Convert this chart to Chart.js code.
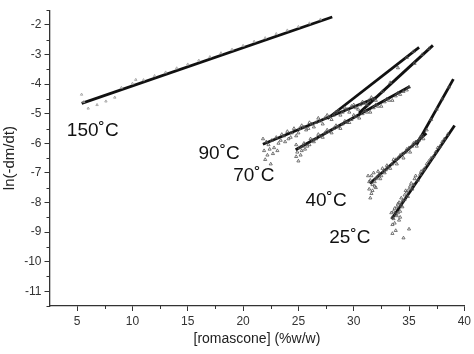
<!DOCTYPE html>
<html>
<head>
<meta charset="utf-8">
<script src="https://cdn.jsdelivr.net/npm/chart.js@4/dist/chart.umd.min.js"></script>
<style>
  body { margin: 0; background: #fff; }
  canvas { display: block; }
</style>
</head>
<body>
<canvas id="rateChart" width="474" height="354"></canvas>
<script>
// axis ticks
const xTicks = [5, 10, 15, 20, 25, 30, 35, 40];
const yTicks = [-11, -10, -9, -8, -7, -6, -5, -4, -3, -2];
const xMinor = [7.5, 12.5, 17.5, 22.5, 27.5, 32.5, 37.5];
const yMinor = [-11.5, -10.5, -9.5, -8.5, -7.5, -6.5, -5.5, -4.5, -3.5, -2.5, -1.5];

// measured points, [romascone %w/w, ln(-dm/dt)]
const pts150 = [[5.4,-4.35],[5.6,-4.6],[6.0,-4.82],[6.8,-4.7],[7.6,-4.58],[8.4,-4.45],[9.0,-4.12],[10.0,-3.98],
  [10.3,-3.85],[11.0,-3.86],[12.0,-3.72],[13.0,-3.6],[14.0,-3.46],[15.0,-3.33],[16.0,-3.2],[17.0,-3.08],
  [18.0,-2.95],[19.0,-2.83],[20.0,-2.7],[21.0,-2.56],[22.0,-2.44],[23.0,-2.3],[24.0,-2.18],[25.0,-2.06],
  [26.0,-1.94],[27.0,-1.81]];
const pts90 = [[21.8,-5.85],[21.9,-6.25],[22.0,-6.55],[22.1,-5.95],[22.2,-6.4],[22.3,-6.05],[22.4,-6.2],
  [22.5,-6.7],[22.6,-5.9],[22.7,-6.35],[22.8,-6.15],[23.0,-5.8],[23.1,-6.25],[23.2,-6.0],[23.4,-5.9],
  [23.5,-5.7],[23.7,-5.75],[23.8,-5.95],[24.0,-5.6],[24.1,-5.85],[24.3,-5.8],[24.4,-5.65],[24.6,-5.5],
  [24.8,-5.75],[25.0,-5.65],[25.1,-5.5],[25.3,-5.4],[25.5,-5.45],[25.7,-5.55],[25.9,-5.5],[26.0,-5.3],
  [26.2,-5.35],[26.4,-5.45],[26.6,-5.3],[26.8,-5.15],[27.0,-5.25],[27.2,-5.35],[27.4,-5.15],[27.6,-5.05],
  [27.8,-5.1],[28.0,-5.2],[28.2,-5.05],[28.4,-4.95],[28.6,-4.9],[28.8,-5.05],[29.0,-4.95],[29.2,-4.8],
  [29.4,-4.85],[29.6,-4.95],[29.8,-4.75],[30.0,-4.7],[30.2,-4.8],[30.4,-4.85],[30.6,-4.7],[30.8,-4.6],
  [31.0,-4.65],[31.2,-4.7],[31.4,-4.55],[31.6,-4.45],[31.8,-4.5],[32.0,-4.55],[32.6,-4.25],[33.3,-3.95],
  [34.0,-3.45],[34.8,-3.1],[35.4,-2.9]];
const pts70 = [[24.8,-6.05],[24.8,-6.45],[24.9,-6.3],[25.0,-6.6],[25.1,-6.15],[25.2,-6.4],[25.3,-6.25],
  [25.4,-6.1],[25.5,-6.0],[25.6,-6.2],[25.8,-6.1],[26.0,-6.05],[26.1,-5.85],[26.3,-5.9],[26.4,-5.95],
  [26.6,-5.85],[26.8,-5.7],[27.0,-5.75],[27.2,-5.8],[27.4,-5.65],[27.6,-5.55],[27.8,-5.6],[28.0,-5.65],
  [28.2,-5.5],[28.4,-5.4],[28.6,-5.45],[28.8,-5.5],[29.0,-5.35],[29.2,-5.25],[29.4,-5.3],[29.6,-5.3],
  [29.8,-5.2],[30.0,-5.05],[30.2,-5.1],[30.5,-5.15],[30.8,-5.0],[31.0,-4.9],[31.2,-4.95],[31.5,-4.95],
  [31.8,-4.8],[32.0,-4.7],[32.2,-4.75],[32.5,-4.75],[32.8,-4.6],[33.0,-4.5],[33.2,-4.55],[33.5,-4.55],
  [33.8,-4.4],[34.0,-4.3],[34.2,-4.35],[34.5,-4.25],[34.8,-4.2],[35.0,-4.1],[35.5,-3.3],[36.2,-3.0],
  [36.8,-2.8]];
const pts40 = [[31.3,-7.1],[31.4,-7.55],[31.4,-7.3],[31.5,-7.25],[31.5,-7.85],[31.6,-7.7],[31.6,-7.1],
  [31.7,-7.4],[31.7,-7.6],[31.8,-7.0],[31.9,-7.3],[31.9,-7.45],[32.0,-7.5],[32.0,-7.2],[32.1,-7.15],
  [32.2,-6.95],[32.3,-7.05],[32.4,-7.2],[32.5,-7.1],[32.6,-6.85],[32.7,-6.95],[32.8,-7.0],[32.9,-6.9],
  [33.0,-6.75],[33.1,-6.8],[33.3,-6.85],[33.5,-6.7],[33.6,-6.55],[33.8,-6.55],[33.9,-6.7],[34.0,-6.5],
  [34.2,-6.4],[34.4,-6.35],[34.5,-6.5],[34.7,-6.3],[34.8,-6.2],[35.0,-6.15],[35.1,-6.3],[35.3,-6.1],
  [35.4,-6.0],[35.6,-5.95],[35.7,-6.1],[35.9,-5.9],[36.0,-5.8],[36.2,-5.75],[36.3,-5.85],[36.6,-5.55],
  [37.0,-5.2],[37.5,-4.85],[38.0,-4.5],[38.6,-4.1]];
const pts25 = [[33.4,-8.35],[33.5,-8.75],[33.5,-9.05],[33.5,-8.5],[33.6,-8.55],[33.6,-8.3],[33.7,-8.2],
  [33.7,-8.7],[33.8,-8.95],[33.8,-8.4],[33.9,-8.45],[33.9,-8.15],[34.0,-8.05],[34.0,-8.35],[34.1,-8.6],
  [34.1,-8.0],[34.2,-8.3],[34.2,-8.5],[34.3,-7.85],[34.3,-8.1],[34.4,-8.15],[34.4,-7.95],[34.5,-9.2],
  [34.6,-7.9],[34.6,-7.75],[34.7,-7.6],[34.8,-7.65],[34.9,-7.8],[35.0,-8.9],[35.0,-7.55],[35.1,-7.45],
  [35.2,-7.35],[35.3,-7.55],[35.4,-7.4],[35.5,-7.2],[35.6,-7.1],[35.8,-7.25],[36.0,-7.05],[36.1,-6.95],
  [36.3,-6.9],[36.4,-6.85],[36.6,-6.7],[36.8,-6.6],[37.0,-6.5],[37.2,-6.45],[37.4,-6.3],[37.6,-6.15],
  [37.8,-6.1],[38.0,-5.95],[38.2,-5.85],[38.5,-5.7]];

// fitted straight lines (end points)
const fit150 = [[5.41,-4.65],[28.06,-1.73]];
const fit90a = [[21.79,-6.03],[32.0,-4.46]];
const fit90b = [[27.61,-5.17],[35.91,-2.76]];
const fit70a = [[24.75,-6.22],[35.07,-4.08]];
const fit70b = [[30.48,-4.98],[37.16,-2.69]];
const fit40a = [[31.46,-7.36],[36.57,-5.66]];
const fit40b = [[35.68,-6.05],[39.01,-3.83]];
const fit25 = [[33.43,-8.56],[39.12,-5.4]];

// temperature labels and where they sit (data units)
const tempLabels = ['150˚C', '90˚C', '70˚C', '40˚C', '25˚C'];
const labelX = [4.07, 15.97, 19.11, 25.64, 27.79];
const labelY = [-5.57, -6.35, -7.1, -7.95, -9.21];

const toXY = arr => arr.map(p => ({ x: p[0], y: p[1] }));

function pointSet(arr, color, r) {
  return {
    data: toXY(arr),
    showLine: false,
    pointStyle: 'triangle',
    pointRadius: r,
    pointBorderWidth: 0.8,
    pointBorderColor: color,
    pointBackgroundColor: 'rgba(0,0,0,0)'
  };
}
function fitSet(arr) {
  return {
    data: toXY(arr),
    showLine: true,
    borderColor: '#111',
    borderWidth: 2.8,
    pointRadius: 0
  };
}

const minorTicks = {
  id: 'minorTicks',
  afterDraw(chart) {
    const ctx = chart.ctx;
    const xs = chart.scales.x, ys = chart.scales.y;
    const area = chart.chartArea;
    ctx.save();
    ctx.strokeStyle = '#333';
    ctx.lineWidth = 1;
    ctx.beginPath();
    xMinor.forEach(v => {
      const px = Math.round(xs.getPixelForValue(v)) + 0.5;
      ctx.moveTo(px, area.bottom);
      ctx.lineTo(px, area.bottom + 3);
    });
    yMinor.forEach(v => {
      const py = Math.round(ys.getPixelForValue(v)) + 0.5;
      ctx.moveTo(area.left, py);
      ctx.lineTo(area.left - 3, py);
    });
    ctx.stroke();
    // temperature labels
    ctx.fillStyle = '#111';
    ctx.font = '19px "Liberation Sans", Arial, sans-serif';
    ctx.textAlign = 'left';
    ctx.textBaseline = 'middle';
    tempLabels.forEach((t, i) => {
      ctx.fillText(t, xs.getPixelForValue(labelX[i]), ys.getPixelForValue(labelY[i]));
    });
    ctx.restore();
  }
};

const tickFont = { family: '"Liberation Sans", Arial, sans-serif', size: 12 };

new Chart(document.getElementById('rateChart').getContext('2d'), {
  type: 'scatter',
  data: {
    datasets: [
      pointSet(pts150, '#9a9a9a', 1.4), pointSet(pts90, '#555', 1.8), pointSet(pts70, '#555', 1.8),
      pointSet(pts40, '#555', 1.8), pointSet(pts25, '#555', 1.8),
      fitSet(fit150), fitSet(fit90a), fitSet(fit90b), fitSet(fit70a), fitSet(fit70b),
      fitSet(fit40a), fitSet(fit40b), fitSet(fit25)
    ]
  },
  options: {
    responsive: false,
    animation: false,
    devicePixelRatio: 1,
    layout: { padding: { left: 0, right: 7, top: 0, bottom: 0 } },
    plugins: {
      legend: { display: false },
      tooltip: { enabled: false }
    },
    scales: {
      x: {
        type: 'linear',
        min: 2.5,
        max: 40,
        afterBuildTicks: s => { s.ticks = xTicks.map(v => ({ value: v })); },
        afterFit: s => { s.height = 48; },
        ticks: { color: '#333', font: tickFont, padding: 3 },
        grid: { drawOnChartArea: false, tickLength: 5, color: '#333' },
        border: { color: '#333', width: 1.3 },
        title: { display: true, text: '[romascone] (%w/w)', color: '#222',
          font: { family: '"Liberation Sans", Arial, sans-serif', size: 14 }, padding: { top: 0, bottom: 6 } }
      },
      y: {
        type: 'linear',
        min: -11.5,
        max: -1.5,
        afterBuildTicks: s => { s.ticks = yTicks.map(v => ({ value: v })); },
        afterFit: s => { s.width = 49.5; },
        ticks: { color: '#333', font: tickFont, padding: 3 },
        grid: { drawOnChartArea: false, tickLength: 5, color: '#333' },
        border: { color: '#333', width: 1.3 },
        title: { display: true, text: 'ln(-dm/dt)', color: '#222',
          font: { family: '"Liberation Sans", Arial, sans-serif', size: 15 }, padding: { top: 1, bottom: 0 } }
      }
    }
  },
  plugins: [minorTicks]
});
</script>
</body>
</html>
